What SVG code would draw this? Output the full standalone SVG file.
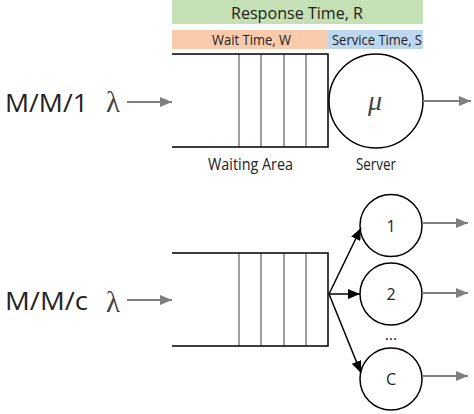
<svg xmlns="http://www.w3.org/2000/svg" width="474" height="414" viewBox="0 0 474 414">
<defs>
<marker id="ga" viewBox="0 0 12 10" refX="12" refY="5" markerWidth="12" markerHeight="10" markerUnits="userSpaceOnUse" orient="auto">
<path d="M0,0 L12,5 L0,10 Z" fill="#7f7f7f"/>
</marker>
<marker id="ba" viewBox="0 0 12 10" refX="12" refY="5" markerWidth="12" markerHeight="10" markerUnits="userSpaceOnUse" orient="auto">
<path d="M0,0 L12,5 L0,10 Z" fill="#000"/>
</marker>
</defs>
<style>
.t{font-family:"Open Sans","Liberation Sans",sans-serif;fill:#222}
.big{font-size:26px}
.sym{font-family:"Liberation Serif","DejaVu Serif",serif;font-size:29px;fill:#444}
.q{fill:none;stroke:#000;stroke-width:1.5}
.v{stroke:#7f7f7f;stroke-width:1.5}
.srv{fill:#fff;stroke:#000;stroke-width:1.5}
.ga{stroke:#7f7f7f;stroke-width:2;fill:none;marker-end:url(#ga)}
.ba{stroke:#000;stroke-width:1.5;fill:none;marker-end:url(#ba)}
</style>
<rect width="474" height="414" fill="#fff"/>
<g id="bars">
<rect x="172" y="0" width="251" height="24" fill="#c5e0b4"/>
<text class="t" x="297" y="18.5" font-size="17" text-anchor="middle" textLength="132" lengthAdjust="spacingAndGlyphs">Response Time, R</text>
<rect x="172" y="30" width="156" height="19" fill="#f8cbad"/>
<text class="t" x="251.5" y="45" font-size="14.5" text-anchor="middle" textLength="79" lengthAdjust="spacingAndGlyphs">Wait Time, W</text>
<rect x="328" y="30" width="95" height="19" fill="#bdd7ee"/>
<text class="t" x="377" y="45" font-size="14.5" text-anchor="middle" textLength="90" lengthAdjust="spacingAndGlyphs">Service Time, S</text>
</g>
<g id="mm1">
<text class="t big" x="5" y="112" textLength="83" lengthAdjust="spacingAndGlyphs">M/M/1</text>
<text class="sym" x="106" y="112">λ</text>
<g id="queue1">
<line class="v" x1="239" y1="54" x2="239" y2="147"/>
<line class="v" x1="261" y1="54" x2="261" y2="147"/>
<line class="v" x1="284" y1="54" x2="284" y2="147"/>
<line class="v" x1="306" y1="54" x2="306" y2="147"/>
<path class="q" d="M172,54 H328 V147 H172"/>
<text class="t" x="250.5" y="170" font-size="16" text-anchor="middle" textLength="85" lengthAdjust="spacingAndGlyphs">Waiting Area</text>
</g>
<g id="server">
<circle class="srv" cx="376" cy="101" r="47"/>
<text x="375" y="110" font-family="Liberation Serif, DejaVu Serif, serif" font-style="italic" font-size="28" fill="#444" text-anchor="middle">μ</text>
<text class="t" x="376" y="170" font-size="16" text-anchor="middle" textLength="40" lengthAdjust="spacingAndGlyphs">Server</text>
</g>
</g>
<g id="mmc">
<text class="t big" x="5" y="310" textLength="83" lengthAdjust="spacingAndGlyphs">M/M/c</text>
<text class="sym" x="106" y="312">λ</text>
<g id="queue2">
<line class="v" x1="239" y1="253" x2="239" y2="346"/>
<line class="v" x1="261" y1="253" x2="261" y2="346"/>
<line class="v" x1="284" y1="253" x2="284" y2="346"/>
<line class="v" x1="306" y1="253" x2="306" y2="346"/>
<path class="q" d="M172,253 H328 V346 H172"/>
</g>
<g id="s1">
<circle class="srv" cx="391" cy="225.5" r="31"/>
<text class="t" x="391" y="231.5" font-size="16" text-anchor="middle">1</text>
</g>
<g id="s2">
<circle class="srv" cx="391" cy="294" r="31"/>
<text class="t" x="391" y="300" font-size="16" text-anchor="middle">2</text>
</g>
<text class="t" x="391" y="340" font-size="16" text-anchor="middle">…</text>
<g id="sc">
<circle class="srv" cx="391" cy="379" r="31"/>
<text class="t" x="391" y="385" font-size="16" text-anchor="middle">C</text>
</g>
</g>
<g id="connectors">
<line class="ga" x1="127" y1="102" x2="172" y2="102"/>
<line class="ga" x1="423" y1="101" x2="471" y2="101"/>
<line class="ga" x1="127" y1="300" x2="172" y2="300"/>
<line class="ba" x1="329" y1="294" x2="361" y2="228"/>
<line class="ba" x1="329" y1="294" x2="360" y2="294"/>
<line class="ba" x1="329" y1="294" x2="361" y2="373"/>
<line class="ga" x1="422" y1="223" x2="468" y2="223"/>
<line class="ga" x1="422" y1="293" x2="468" y2="293"/>
<line class="ga" x1="422" y1="376" x2="468" y2="376"/>
</g>
</svg>
